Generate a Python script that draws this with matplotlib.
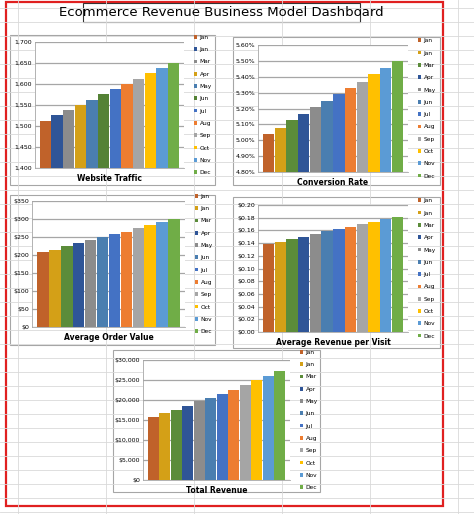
import matplotlib
matplotlib.use("Agg")
import matplotlib.pyplot as plt
from matplotlib.patches import Rectangle
from matplotlib.ticker import FuncFormatter
import numpy as np

W, H = 474, 514
months = ["Jan", "Jan", "Mar", "Apr", "May", "Jun", "Jul", "Aug", "Sep", "Oct", "Nov", "Dec"]
traffic = [1512, 1525, 1537, 1550, 1562, 1575, 1587, 1600, 1612, 1625, 1637, 1650]
conversion = [5.04, 5.08, 5.125, 5.165, 5.21, 5.25, 5.29, 5.33, 5.37, 5.415, 5.455, 5.50]
aov = [207, 215, 224, 232, 241, 249, 257, 265, 274, 282, 291, 299]
arpv = [0.138, 0.142, 0.146, 0.150, 0.155, 0.159, 0.162, 0.166, 0.170, 0.174, 0.178, 0.181]
revenue = [15800, 16700, 17600, 18600, 19700, 20600, 21600, 22600, 23800, 25000, 26000, 27200]

colsA = ["#C0622A", "#2F5597", "#8C8C8C", "#D4A017", "#4A7EB0", "#548235",
         "#4472C4", "#ED7D31", "#A5A5A5", "#FFC000", "#5B9BD5", "#70AD47"]
colsB = ["#C0622A", "#D4A017", "#5B8C3A", "#2F5597", "#8C8C8C", "#4A7EB0",
         "#4472C4", "#ED7D31", "#A5A5A5", "#FFC000", "#5B9BD5", "#70AD47"]

fig = plt.figure(figsize=(W / 100, H / 100), dpi=100)
bg = fig.add_axes([0, 0, 1, 1])
bg.set_xlim(0, W); bg.set_ylim(H, 0); bg.axis("off")
for x in range(18, W, 88):
    bg.plot([x, x], [0, H], color="#D9D9D9", lw=0.6)
for y in range(8, H, 14):
    bg.plot([0, W], [y, y], color="#D9D9D9", lw=0.6)
bg.add_patch(Rectangle((6, 2), 437, 504, fill=False, ec="#E02020", lw=1.6))
bg.add_patch(Rectangle((83, 3), 277, 19, fc="white", ec="#333333", lw=0.8))
bg.text(221.5, 12.5, "Ecommerce Revenue Business Model Dashboard", ha="center", va="center", fontsize=9.5)

def panel(box, plot, vals, cols, ylim, step, fmt, title):
    bx0, by0, bx1, by1 = box
    bg.add_patch(Rectangle((bx0, by0), bx1 - bx0, by1 - by0, fc="white", ec="#A6A6A6", lw=0.8))
    px0, py0, px1, py1 = plot
    ax = fig.add_axes([px0 / W, 1 - py1 / H, (px1 - px0) / W, (py1 - py0) / H])
    x = np.arange(len(vals))
    bars = ax.bar(x, [v - ylim[0] for v in vals], bottom=ylim[0], width=0.98, color=cols)
    ax.set_xlim(-0.9, 11.9)
    ax.set_ylim(*ylim)
    ax.set_yticks(np.arange(ylim[0], ylim[1] + step / 2, step))
    ax.yaxis.set_major_formatter(FuncFormatter(fmt))
    ax.tick_params(axis="y", labelsize=4.5, length=0, pad=2)
    ax.set_xticks([])
    ax.grid(axis="y", color="#A6A6A6", lw=0.9)
    ax.set_axisbelow(True)
    for s in ["top", "right"]:
        ax.spines[s].set_visible(False)
    for s in ["left", "bottom"]:
        ax.spines[s].set_color("#A6A6A6"); ax.spines[s].set_linewidth(0.6)
    ax.set_xlabel(title, fontsize=5.5, fontweight="bold", labelpad=4)
    handles = [Rectangle((0, 0), 1, 1, fc=c) for c in cols]
    leg = ax.legend(handles, months, loc="center left", bbox_to_anchor=(1.03, 0.5), frameon=False,
                    fontsize=4.2, handlelength=0.6, handleheight=0.6, labelspacing=1.25, handletextpad=0.4)

panel((10, 35, 215, 185), (35, 42, 184, 168), traffic, colsA, (1400, 1700), 50,
      lambda v, p: f"{v:,.0f}", "Website Traffic")
panel((233, 37, 440, 185), (258, 45, 408, 172), conversion, colsB, (4.8, 5.6), 0.1,
      lambda v, p: f"{v:.2f}%", "Conversion Rate")
panel((10, 195, 215, 345), (32, 201, 185, 327), aov, colsB, (0, 350), 50,
      lambda v, p: f"${v:,.0f}", "Average Order Value")
panel((233, 197, 440, 348), (258, 205, 408, 332), arpv, colsB, (0, 0.2), 0.02,
      lambda v, p: f"${v:.2f}", "Average Revenue per Visit")
panel((113, 350, 320, 492), (143, 360, 290, 480), revenue, colsB, (0, 30000), 5000,
      lambda v, p: f"${v:,.0f}", "Total Revenue")

fig.savefig("out.png", dpi=100)
